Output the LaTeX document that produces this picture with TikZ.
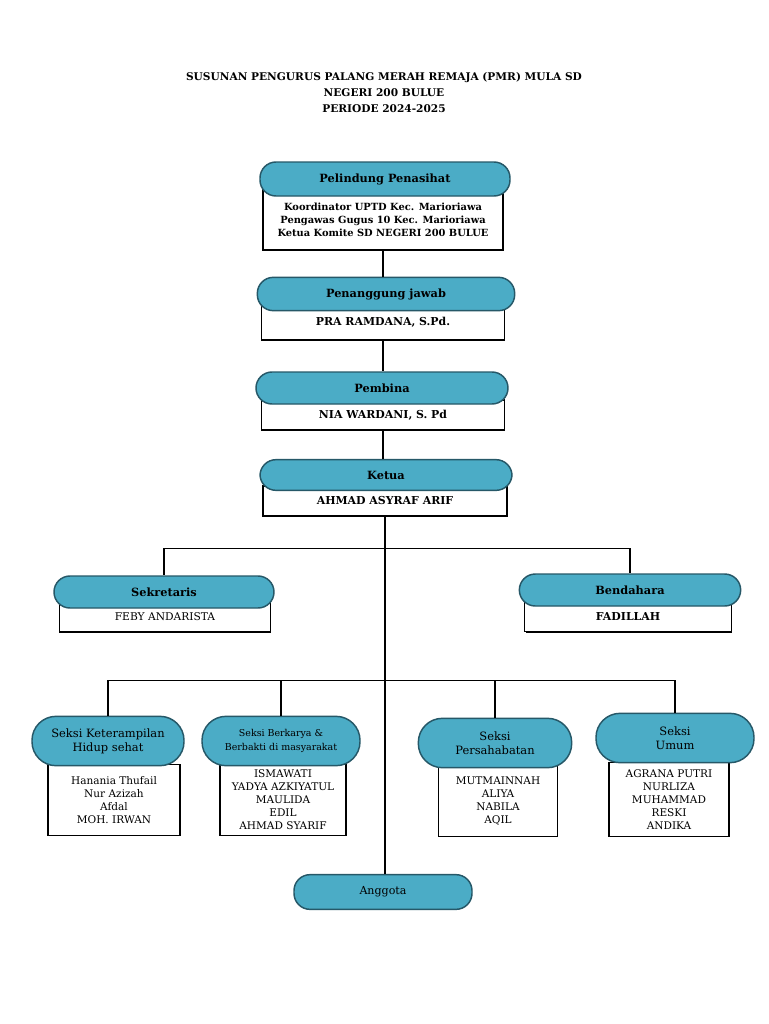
\documentclass[tikz,border=0pt]{standalone}
\usepackage{fontspec}
\setmainfont{DejaVu Serif}
\usepackage{tikz}
\usetikzlibrary{shadows}
\definecolor{pmrteal}{RGB}{75,172,198}
\definecolor{pmrborder}{RGB}{38,88,104}

\begin{document}
\begin{tikzpicture}[x=0.75pt, y=-0.75pt,
    tealpill/.style={rectangle, rounded corners=12pt, fill=pmrteal, draw=pmrborder, line width=1.1pt, text=black,
                    minimum height=24pt, minimum width=189pt, align=center, font=\fontsize{8.5}{10}\selectfont\bfseries},
    namebox/.style={rectangle, fill=white, draw=black, line width=0.9pt, align=center, inner sep=1pt,
                    font=\fontsize{8.2}{9.75}\selectfont\bfseries,
                    drop shadow={shadow xshift=0.8pt, shadow yshift=-0.8pt, fill=black, opacity=1}},
    seksipill/.style={tealpill, rounded corners=18pt, minimum height=37pt, minimum width=116pt,
                    font=\fontsize{8.6}{10.5}\selectfont},
    seksibox/.style={namebox, minimum height=53pt, font=\fontsize{7.9}{9.75}\selectfont},
    connector/.style={line width=1.1pt, draw=black}
]
    \fill[white] (0,0) rectangle (768,1024);
    \useasboundingbox (0,0) rectangle (768,1024);

    % Title
    \node[font=\fontsize{7.95}{12}\selectfont\bfseries, align=center] (title) at (384,93)
        {SUSUNAN PENGURUS PALANG MERAH REMAJA (PMR) MULA SD\\NEGERI 200 BULUE\\PERIODE 2024-2025};

    % Level 1 - Pelindung Penasihat
    \node[namebox, minimum width=180pt, minimum height=45pt, font=\fontsize{7.4}{9.75}\selectfont\bfseries] (pelindungbox) at (383,220)
        {Koordinator UPTD Kec. Marioriawa\\Pengawas Gugus 10 Kec. Marioriawa\\Ketua Komite SD NEGERI 200 BULUE};
    \node[tealpill, minimum width=187.5pt, minimum height=25.5pt] (pelindung) at (385,179) {Pelindung Penasihat};

    % Level 2 - Penanggung jawab
    \node[namebox, minimum width=182pt, minimum height=27pt] (penanggungbox) at (383,322) {PRA RAMDANA, S.Pd.};
    \node[tealpill, minimum width=193pt, minimum height=25pt] (penanggung) at (386,294) {Penanggung jawab};

    % Level 3 - Pembina
    \node[namebox, minimum width=182pt, minimum height=22.5pt] (pembinabox) at (383,415) {NIA WARDANI, S. Pd};
    \node[tealpill] (pembina) at (382,388) {Pembina};

    % Level 4 - Ketua
    \node[namebox, minimum width=183pt, minimum height=22.5pt] (ketuabox) at (385,501) {AHMAD ASYRAF ARIF};
    \node[tealpill, minimum height=23pt] (ketua) at (386,475) {Ketua};

    % Level 5 - Sekretaris and Bendahara
    \node[namebox, minimum width=158pt, minimum height=22.5pt, font=\fontsize{8}{9.75}\selectfont] (sekretarisbox) at (165,617) {FEBY ANDARISTA};
    \node[tealpill, minimum width=165pt] (sekretaris) at (164,592) {Sekretaris};
    \node[namebox, minimum width=155pt, minimum height=22pt] (bendaharabox) at (628,617) {FADILLAH};
    \node[tealpill, minimum width=166pt] (bendahara) at (630,590) {Bendahara};

    % Level 6 - Seksi
    \node[seksibox, minimum width=99pt] (keterampilanbox) at (114,800)
        {Hanania Thufail\\Nur Azizah\\Afdal\\MOH. IRWAN};
    \node[seksipill, minimum width=114pt] (keterampilan) at (108,741) {Seksi Keterampilan\\Hidup sehat};
    \node[seksibox, minimum width=94.5pt] (berkaryabox) at (283,800)
        {ISMAWATI\\YADYA AZKIYATUL\\MAULIDA\\EDIL\\AHMAD SYARIF};
    \node[seksipill, minimum width=118.5pt, font=\fontsize{7.1}{10}\selectfont] (berkarya) at (281,741) {Seksi Berkarya \&\\Berbakti di masyarakat};
    \node[seksibox, minimum width=89pt] (persahabatanbox) at (498,801)
        {MUTMAINNAH\\ALIYA\\NABILA\\AQIL};
    \node[seksipill, minimum width=115pt] (persahabatan) at (495,743) {Seksi\\Persahabatan};
    \node[seksibox, minimum width=90pt, minimum height=55pt] (umumbox) at (669,799.5)
        {AGRANA PUTRI\\NURLIZA\\MUHAMMAD\\RESKI\\ANDIKA};
    \node[seksipill, minimum width=118.5pt] (umum) at (675,738) {Seksi\\Umum};

    % Level 7 - Anggota
    \node[tealpill, minimum width=133.5pt, minimum height=26pt, font=\fontsize{8.3}{10}\selectfont] (anggota) at (383,892) {Anggota};

    % Connections
    \draw[connector] (pelindungbox.south) -- (pelindungbox.south |- penanggung.north);
    \draw[connector] (penanggungbox.south) -- (penanggungbox.south |- pembina.north);
    \draw[connector] (pembinabox.south) -- (pembinabox.south |- ketua.north);
    \draw[connector] (ketuabox.south) -- (ketuabox.south |- anggota.north);
    \draw[connector] (ketuabox.south) -- ++(0,32) -| (sekretaris.north);
    \draw[connector] (ketuabox.south) -- ++(0,32) -| (bendahara.north);
    \draw[connector] (ketuabox.south) -- ++(0,164) -| (keterampilan.north);
    \draw[connector] (ketuabox.south) -- ++(0,164) -| (berkarya.north);
    \draw[connector] (ketuabox.south) -- ++(0,164) -| (persahabatan.north);
    \draw[connector] (ketuabox.south) -- ++(0,164) -| (umum.north);
\end{tikzpicture}
\end{document}
